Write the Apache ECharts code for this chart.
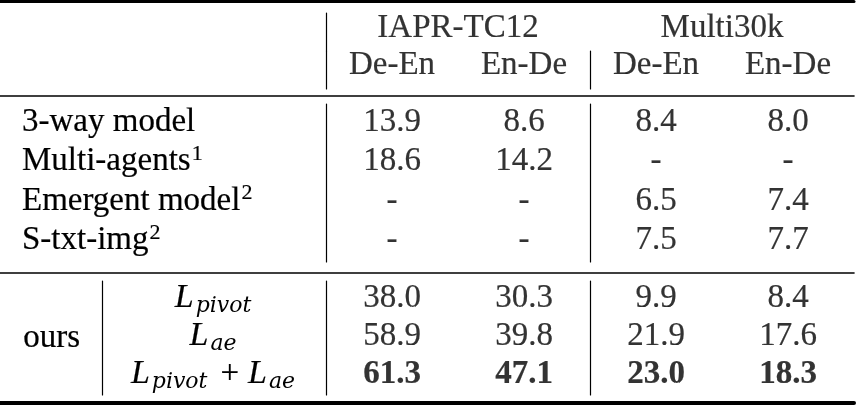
<!DOCTYPE html>
<html>
<head>
<meta charset="utf-8">
<script src="https://cdn.jsdelivr.net/npm/echarts@6/dist/echarts.min.js"></script>
<style>
html,body{margin:0;padding:0;background:#fff;}
#chart{width:856px;height:408px;}
</style>
</head>
<body>
<div id="chart"></div>
<script>
// ---------- data ----------
const datasets = ['IAPR-TC12', 'Multi30k'];
const directions = ['De-En', 'En-De', 'De-En', 'En-De'];

const baselineModels = ['3-way model', 'Multi-agents', 'Emergent model', 'S-txt-img'];
const baselineNotes = ['', '1', '2', '2'];
const threeWay    = [13.9, 8.6, 8.4, 8.0];
const multiAgents = [18.6, 14.2, null, null];
const emergent    = [null, null, 6.5, 7.4];
const sTxtImg     = [null, null, 7.5, 7.7];

const oursGroup = 'ours';
const oursVariants = ['L_pivot', 'L_ae', 'L_pivot + L_ae'];
const lPivot   = [38.0, 30.3, 9.9, 8.4];
const lAe      = [58.9, 39.8, 21.9, 17.6];
const lPivotAe = [61.3, 47.1, 23.0, 18.3];

// ---------- styling ----------
const FONT = '"Liberation Serif","Times New Roman",serif';
const SUBFONT = '"DejaVu Serif",serif';
const INK = '#000';
const FS = 33;
const THICK = {textBorderColor: INK, textBorderWidth: 0.2};

const baselineRows = [threeWay, multiAgents, emergent, sTxtImg];
const oursRows = [lPivot, lAe, lPivotAe];
const allRows = baselineRows.concat(oursRows);
const best = directions.map((_, c) => Math.max(...allRows.map(r => r[c] == null ? -Infinity : r[c])));
const fmt = v => v == null ? '-' : v.toFixed(1);

function lineAxisY(gridIndex, position, offset, width) {
  return {
    type: 'category', data: [''], gridIndex, position, offset,
    axisLine: {show: true, onZero: false, lineStyle: {color: INK, width: width || 1.2}},
    axisTick: {show: false}, axisLabel: {show: false}, splitLine: {show: false}
  };
}
function lineAxisX(gridIndex, position, width) {
  return {
    type: 'category', data: [''], gridIndex, position,
    axisLine: {show: true, onZero: false, lineStyle: {color: INK, width}},
    axisTick: {show: false}, axisLabel: {show: false}, splitLine: {show: false}
  };
}
function hiddenAxis(gridIndex, data, extra) {
  return Object.assign({
    type: 'category', data, gridIndex, show: true,
    axisLine: {show: false, onZero: false}, axisTick: {show: false},
    axisLabel: {show: false}, splitLine: {show: false}
  }, extra || {});
}
function textSeries(xi, yi, data, dy) {
  return {
    type: 'scatter', xAxisIndex: xi, yAxisIndex: yi, data,
    symbol: 'circle', symbolSize: 2, silent: true,
    itemStyle: {color: 'rgba(0,0,0,0)'},
    emphasis: {disabled: true},
    label: Object.assign({show: true, position: 'inside', formatter: '{b}', offset: [0, dy],
            fontFamily: FONT, fontSize: FS, color: INK}, THICK)
  };
}
function mathLabel(text) {
  return text.split(' + ').map(t => {
    const sub = t.split('_')[1];
    return '{L|L}{sub|' + sub + '}';
  }).join('{op|+}');
}

const numLeft = 326, numRight = 2;
const grids = [
  {left: 0, right: 2, top: 1.5, height: 94.5},      // 0 rules: top + header rule
  {left: 0, right: 2, top: 272.5, height: 130.5},   // 1 rules: mid + bottom
  {left: numLeft, right: numRight, top: 13, height: 38},   // 2 header row 1
  {left: numLeft, right: numRight, top: 51, height: 38},   // 3 header row 2
  {left: numLeft, right: numRight, top: 104, height: 158}, // 4 baselines
  {left: numLeft, right: numRight, top: 281, height: 114}  // 5 ours
].map(g => Object.assign({containLabel: false, outerBoundsMode: 'none'}, g));

const xAxes = [
  lineAxisX(0, 'top', 3),
  lineAxisX(0, 'bottom', 1.6),
  lineAxisX(1, 'top', 1.6),
  lineAxisX(1, 'bottom', 4),
  hiddenAxis(2, datasets),
  hiddenAxis(3, directions),
  hiddenAxis(4, directions),
  hiddenAxis(5, directions)
];

const yAxes = [
  hiddenAxis(0, ['']),
  hiddenAxis(1, ['']),
  lineAxisY(2, 'left', 0),
  lineAxisY(3, 'left', 0),
  lineAxisY(3, 'right', -264),
  {
    type: 'category', gridIndex: 4, data: baselineModels, inverse: true, position: 'left',
    axisLine: {show: true, onZero: false, lineStyle: {color: INK, width: 1.2}},
    axisTick: {show: false}, splitLine: {show: false},
    axisLabel: {
      show: true, interval: 0, align: 'left', margin: 304,
      fontFamily: FONT, fontSize: FS, color: INK,
      formatter: (v, i) => '{m|' + v + '}' + (baselineNotes[i] ? '{sup|' + baselineNotes[i] + '}' : ''),
      rich: {
        m: Object.assign({fontFamily: FONT, fontSize: FS, color: INK, padding: [0, 0, 3, 0]}, THICK),
        sup: Object.assign({fontFamily: FONT, fontSize: 22, color: INK, padding: [0, 0, 19, 1]}, THICK)
      }
    }
  },
  lineAxisY(4, 'right', -264),
  {
    type: 'category', gridIndex: 5, data: oursVariants, inverse: true, position: 'left',
    axisLine: {show: true, onZero: false, lineStyle: {color: INK, width: 1.2}},
    axisTick: {show: false}, splitLine: {show: false},
    axisLabel: {
      show: true, interval: 0, align: 'center', margin: 113,
      fontFamily: FONT, fontSize: FS, color: INK,
      formatter: v => mathLabel(v),
      rich: {
        L: Object.assign({fontFamily: FONT, fontStyle: 'italic', fontSize: 34, color: INK, padding: [0, 2, 4, 0]}, THICK),
        sub: {fontFamily: SUBFONT, fontStyle: 'italic', fontSize: 22, color: INK, padding: [12, 0, 0, 0]},
        op: Object.assign({fontFamily: FONT, fontSize: FS, color: INK, padding: [0, 9, 4, 13]}, THICK)
      }
    }
  },
  Object.assign(lineAxisY(5, 'left', 224), {
    name: oursGroup, nameLocation: 'middle', nameRotate: 0, nameGap: 22,
    nameTextStyle: Object.assign({fontFamily: FONT, fontSize: FS, color: INK, align: 'right', verticalAlign: 'middle'}, THICK)
  }),
  lineAxisY(5, 'right', -264)
];

const headerTop = datasets.map((d, i) => ({value: [i, 0], name: d}));
const headerSub = directions.map((d, i) => ({value: [i, 0], name: d}));
function cells(rows) {
  const out = [];
  rows.forEach((row, r) => row.forEach((v, c) => {
    const item = {value: [c, r], name: fmt(v)};
    if (v != null && v === best[c]) item.label = {fontWeight: 'bold'};
    out.push(item);
  }));
  return out;
}

const chart = echarts.init(document.getElementById('chart'), null, {renderer: 'canvas'});
chart.setOption({
  animation: false,
  backgroundColor: '#fff',
  grid: grids,
  xAxis: xAxes,
  yAxis: yAxes,
  series: [
    textSeries(4, 2, headerTop, -4),
    textSeries(5, 3, headerSub, -4.5),
    textSeries(6, 5, cells(baselineRows), -1.5),
    textSeries(7, 7, cells(oursRows), -2)
  ]
});
</script>
</body>
</html>
